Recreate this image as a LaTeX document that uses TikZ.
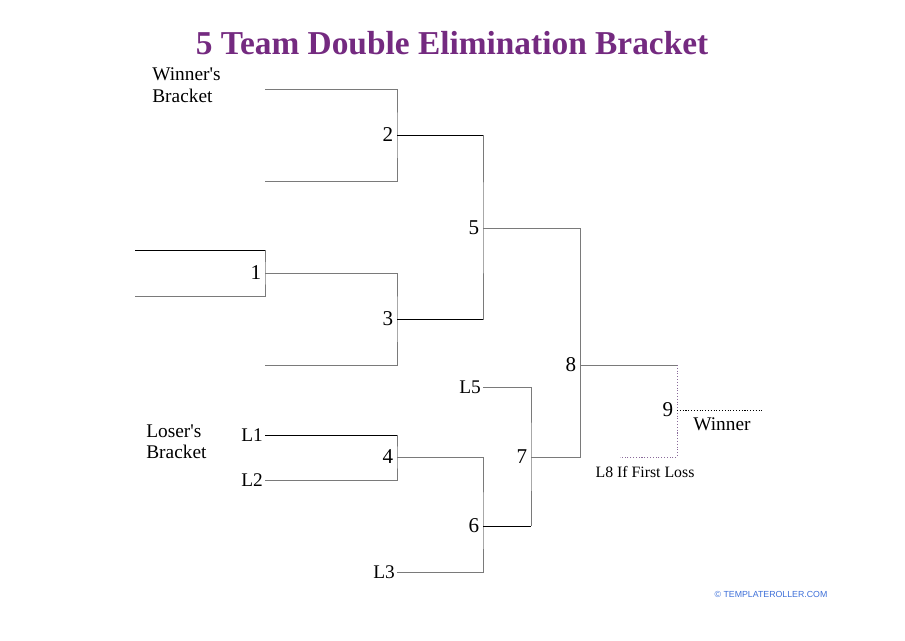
\documentclass[tikz,border=0pt]{standalone}
\usepackage{fontspec}
\setmainfont{Liberation Serif}
\newfontfamily\marksans{Liberation Sans}
\usepackage{xcolor}

\definecolor{titlepurple}{HTML}{742A80}
\definecolor{linegray}{HTML}{7A7A7A}
\definecolor{dotpurple}{HTML}{8A6A9A}
\definecolor{markblue}{HTML}{3D6FD8}

\tikzset{
  wire/.style={draw=linegray, line width=0.5pt},
  hotwire/.style={draw=black, line width=0.5pt},
  dotwire/.style={draw=dotpurple, dash pattern=on 0.6pt off 1pt, line width=0.5pt},
  winwire/.style={draw=black, dash pattern=on 0.6pt off 1pt, line width=0.5pt},
  seed/.style={font=\fontsize{12}{12}\selectfont, inner sep=2pt},
  slot/.style={font=\fontsize{11}{11}\selectfont, inner sep=1pt},
  side/.style={font=\fontsize{11}{12.5}\selectfont, align=left, inner sep=0pt}
}

\begin{document}
\begin{tikzpicture}[x=0.02cm, y=-0.02cm]
    \useasboundingbox (0,0) rectangle (905,640);

    % Title
    \node[font=\fontsize{19}{19}\selectfont\bfseries, text=titlepurple] (title) at (452,43) {5 Team Double Elimination Bracket};

    % Match points
    \coordinate (g1) at (265,273);
    \coordinate (g2) at (397,135);
    \coordinate (g3) at (397,319);
    \coordinate (g4) at (397,457);
    \coordinate (g5) at (483,228);
    \coordinate (g6) at (483,526);
    \coordinate (g7) at (531,457);
    \coordinate (g8) at (580,365);
    \coordinate (g9) at (677,410);

    % Free ends
    \coordinate (in1a) at (135,250);
    \coordinate (in1b) at (135,296);
    \coordinate (in2a) at (265,89);
    \coordinate (in2b) at (265,181);
    \coordinate (in3b) at (265,365);
    \coordinate (inL1) at (265,435);
    \coordinate (inL2) at (265,480);
    \coordinate (inL3) at (397,572);
    \coordinate (inL5) at (483,387);
    \coordinate (inL8) at (620,457);
    \coordinate (champ) at (763,410);

    % Winner's bracket
    \node[side, anchor=north west] (wtag) at (152,67) {Winner\textquotesingle s\\Bracket};
    \draw[wire] (in1a) -| (g1) |- (in1b);
    \draw[hotwire] (in1a) -- (in1a -| g1);
    \draw[wire] (in2a) -| (g2) |- (in2b);
    \draw[wire] (g1) -| (g3) |- (in3b);
    \draw[wire] (g2) -| (g5) |- (g3);
    \draw[hotwire] (g2) -- (g2 -| g5);
    \draw[hotwire] (g3) -- (g3 -| g5);
    \node[seed, left] (n1) at (g1) {1};
    \node[seed, left] (n2) at (g2) {2};
    \node[seed, left] (n3) at (g3) {3};
    \node[seed, left] (n5) at (g5) {5};

    % Loser's bracket
    \node[side, anchor=north west] (ltag) at (146,424) {Loser\textquotesingle s\\Bracket};
    \draw[wire] (inL1) -| (g4) |- (inL2);
    \draw[hotwire] (inL1) -- (inL1 -| g4);
    \draw[wire] (g4) -| (g6) |- (inL3);
    \draw[wire] (inL5) -| (g7) -- (g7 |- g6);
    \draw[hotwire] (g6) -- (g7 |- g6);
    \node[slot, left] (l1) at (inL1) {L1};
    \node[slot, left] (l2) at (inL2) {L2};
    \node[slot, left] (l3) at (inL3) {L3};
    \node[slot, left] (l5) at (inL5) {L5};
    \node[seed, left] (n4) at (g4) {4};
    \node[seed, left] (n6) at (g6) {6};
    \node[seed, left] (n7) at (g7) {7};

    % Finals
    \draw[wire] (g5) -| (g8) |- (g7);
    \draw[wire] (g8) -- (g8 -| g9);
    \draw[dotwire] (g8 -| g9) -- (g9 |- inL8) -- (inL8);
    \draw[winwire] (g9) -- (champ);
    \node[seed, left] (n8) at (g8) {8};
    \node[seed, left] (n9) at (g9) {9};
    \node[font=\fontsize{11}{11}\selectfont, anchor=west, inner sep=0pt] (win) at (693,424) {Winner};
    \node[font=\fontsize{9}{9}\selectfont] (l8) at (645,472) {L8 If First Loss};

    % Watermark
    \node[font=\marksans\fontsize{5}{5}\selectfont, text=markblue] (mark) at (771,594) {\textcopyright{} TEMPLATEROLLER.COM};

\end{tikzpicture}
\end{document}
